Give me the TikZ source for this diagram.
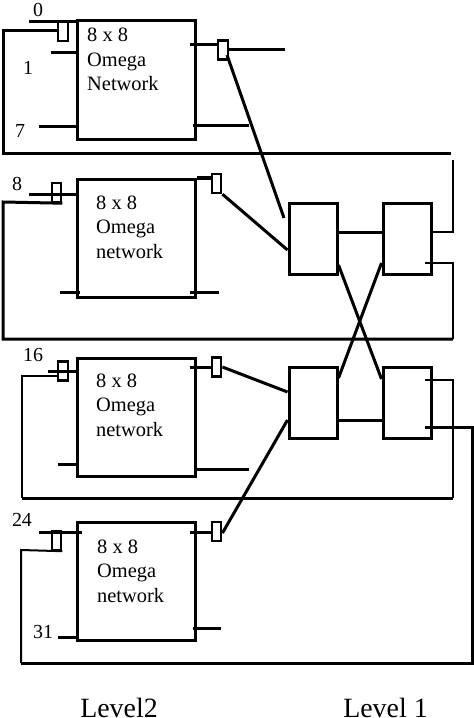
\documentclass[tikz,border=0pt]{standalone}
\usepackage{fontspec}
\setmainfont{Liberation Serif}
\begin{document}
\begin{tikzpicture}[x=1bp,y=-1bp,
  thick line/.style={line width=3bp},
  thin line/.style={line width=2bp},
  omega/.style={draw,line width=3bp,minimum width=118bp,minimum height=118bp,inner sep=0pt},
  swbox/.style={draw,line width=3bp,minimum width=48bp,minimum height=71bp,inner sep=0pt},
  tiny/.style={draw,line width=2.4bp,minimum width=9.5bp,minimum height=19bp,inner sep=0pt},
  txt/.style={font=\fontsize{20.5}{24}\selectfont,inner sep=0pt,anchor=base west},
  num/.style={font=\fontsize{20}{24}\selectfont,inner sep=0pt},
  lev/.style={font=\fontsize{28}{32}\selectfont,inner sep=0pt,anchor=base}]
\useasboundingbox (0,0) rectangle (474,718);
% level-2 omega networks
\node[omega] (om1) at (136,80) {};
\node[omega] (om2) at (136,238.5) {};
\node[omega] (om3) at (136,417) {};
\node[omega] (om4) at (136,581.5) {};
% level-1 switches
\node[swbox] (a1) at (313,238.5) {};
\node[swbox] (a2) at (407,238.5) {};
\node[swbox] (b1) at (313,403) {};
\node[swbox] (b2) at (407,403) {};
% small input switches
\node[tiny] (i1) at (63,31.5) {};
\node[tiny] (i2) at (56.5,192.5) {};
\node[tiny] (i3) at (63,371) {};
\node[tiny] (i4) at (56.5,540.5) {};
% small output switches
\node[tiny] (o1) at (223,50) {};
\node[tiny] (o2) at (216.5,183.5) {};
\node[tiny] (o3) at (216.5,367) {};
\node[tiny] (o4) at (216.5,531.5) {};
% texts in the omega networks
\foreach \n/\x/\y/\w in {1/87/42/Network, 2/96/209/network, 3/96/387/network, 4/97/553/network}{
  \node[txt] (t\n a) at (\x,\y) {8 x 8};
  \node[txt] (t\n b) at (\x,\y+24.5) {Omega};
  \node[txt] (t\n c) at (\x,\y+49) {\w};
}
% port numbers
\node[num] (n0) at (38,9.5) {0};
\node[num] (n1) at (28,68) {1};
\node[num] (n7) at (20,131) {7};
\node[num] (n8) at (17,184) {8};
\node[num] (n16) at (33,355) {16};
\node[num] (n24) at (22,520) {24};
\node[num] (n31) at (43,632) {31};
\node[lev] (lv2) at (119,717) {Level2};
\node[lev] (lv1) at (385.5,717) {Level 1};
% inputs of block 1
\draw[thick line] (29,22) -- (om1.west |- 0,22);
\draw[thick line] (51,53) -- (om1.west |- 0,53);
\draw[thick line] (39,127) -- (om1.west |- 0,127);
% inputs of blocks 2-4
\draw[thick line] (29,194) -- (om2.west |- 0,194);
\draw[thick line] (60,292) -- (80,292);
\draw[thick line] (48,371) -- (om3.west |- 0,371);
\draw[thick line] (58,464) -- (om3.west |- 0,464);
\draw[thick line] (39,532) -- (82,532);
\draw[thick line] (58,637) -- (om4.west |- 0,637);
% outputs of block 1
\draw[thick line] (190,45) -- (o1.west |- 0,45);
\draw[thick line] (o1.east |- 0,50) -- (285,50);
\draw[thick line] (227,55) -- (284,218);
\draw[thick line] (193,126) -- (249,126);
% outputs of block 2
\draw[thick line] (om2.north east) -- (o2.west |- om2.north);
\draw[thick line] (o2.south east) -- (a1.west |- 0,250);
\draw[thick line] (190,292) -- (219,292);
% outputs of block 3
\draw[thick line] (190,367) -- (o3.west);
\draw[thick line] (o3.east) -- (b1.west |- 0,392);
\draw[thick line] (195,469) -- (249,469);
% outputs of block 4
\draw[thick line] (190,532) -- (o4.west |- 0,532);
\draw[thick line] (o4.east |- 0,533) -- (b1.west |- 0,420);
\draw[thick line] (193,628) -- (221,628);
% level-1 links
\draw[thick line] (a1.east |- 0,232) -- (a2.west |- 0,232);
\draw[thick line] (b1.east |- 0,420) -- (b2.west |- 0,420);
\draw[thick line] (a1.east |- 0,265) -- (b2.west |- 0,379);
\draw[thick line] (a2.west |- 0,263) -- (b1.east |- 0,378);
% feedback loops
\draw[thick line] (i1.west |- 0,31) -- (3,31) -- (3,153) -- (451,153);
\draw[thin line] (453,160) -- (453,232) -- (a2.east |- 0,232);
\draw[thick line] (i2.south east) -- (3,202) -- (3,339) -- (453,339);
\draw[thin line] (453,339) -- (453,263) -- (425,263);
\draw[thin line] (i3.west |- 0,376) -- (22,376) -- (22,498);
\draw[thick line] (22,498) -- (453,498);
\draw[thin line] (453,498) -- (453,380) -- (425,380);
\draw[thin line] (i4.south east) -- (21,550) -- (21,663);
\draw[thick line] (21,663) -- (472,663) -- (472,427) -- (425,427);
\end{tikzpicture}
\end{document}
